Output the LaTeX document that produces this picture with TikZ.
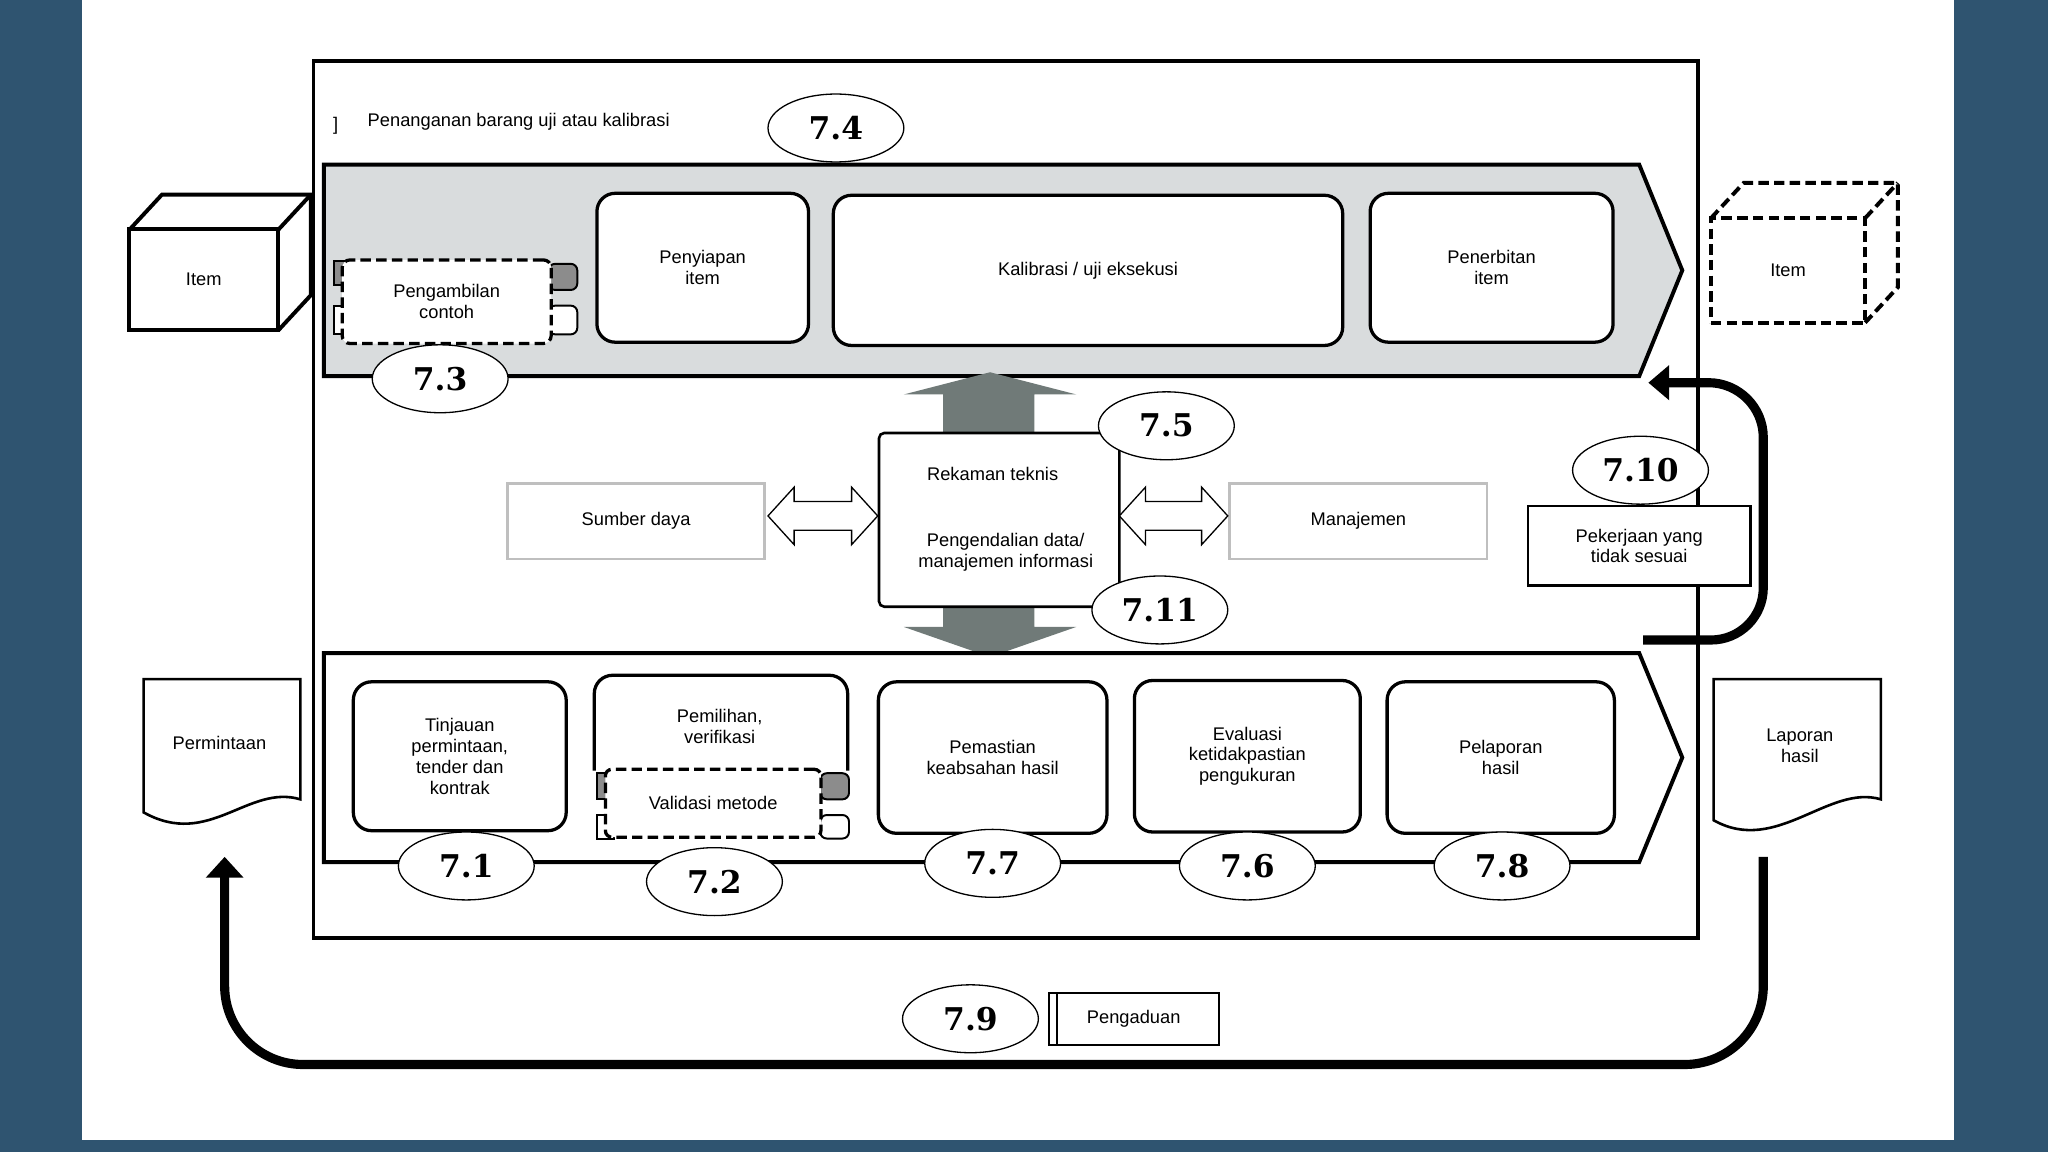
\documentclass[tikz,border=0pt]{standalone}
\usepackage{fontspec}
\setmainfont{Liberation Sans}
\newfontfamily\numfont{DejaVu Serif}
\usetikzlibrary{shapes.geometric,arrows.meta}
\definecolor{bgblue}{HTML}{2F5470}
\definecolor{band}{HTML}{D9DCDD}
\definecolor{darrow}{HTML}{707A78}
\begin{document}
\begin{tikzpicture}[x=1pt,y=-1pt,
  txt/.style={font=\fontsize{14}{16}\selectfont,align=center},
  rbox/.style={draw,line width=2.5pt,rounded corners=14pt,fill=white},
  dsh/.style={dash pattern=on 8pt off 4pt},
  num/.style={draw,ellipse,fill=white,line width=1pt,minimum width=104pt,minimum height=52pt,font=\numfont\bfseries\fontsize{24}{26}\selectfont},
  lbox/.style={draw=black!25,line width=2pt,fill=white},
  thick3/.style={line width=3pt}]
\useasboundingbox (0,0) rectangle (1568,882);
\fill[bgblue] (0,0) rectangle (1568,882);
\fill[white] (63,0) rectangle (1496,873);
\draw[thick3] (240,47) rectangle (1300,718);
\node[txt,anchor=west] (title) at (278,93) {Penanganan barang uji atau kalibrasi};
\node[txt] (br) at (257,96) {]};
% top band
\draw[thick3,fill=band] (248,126) -- (1255,126) -- (1288,207) -- (1255,288) -- (248,288) -- cycle;
\node[num] (n74) at (640,98) {7.4};
\node[rbox,minimum width=162pt,minimum height=114pt,txt] (pen) at (538,205) {Penyiapan\\item};
\node[rbox,minimum width=390pt,minimum height=115pt,txt] (kal) at (833,207) {Kalibrasi / uji eksekusi};
\node[rbox,minimum width=186pt,minimum height=114pt,txt] (ter) at (1142,205) {Penerbitan\\item};
% Pengambilan contoh
\draw[fill=black!45,line width=1.5pt] (256,200) rectangle (268,218);
\draw[fill=black!45,line width=1.5pt,rounded corners=5pt] (420,202) rectangle (442,222) ;
\draw[fill=white,line width=1.5pt,rounded corners=5pt] (420,234) rectangle (442,256);
\draw[fill=white,line width=1.5pt] (256,234) rectangle (268,256);
\node[draw,dsh,line width=2.5pt,fill=white,rounded corners=6pt,minimum width=160pt,minimum height=64pt,txt] (amb) at (342,231) {Pengambilan\\contoh};
\node[num] (n73) at (337,290) {7.3};
% cubes
\draw[thick3,fill=white] (99,176) -- (124,149) -- (238,149) -- (238,226) -- (213,253);
\draw[thick3] (213,176) -- (238,149);
\node[draw,thick3,fill=white,minimum width=114pt,minimum height=77pt,txt] (itemL) at (156,214) {Item};
\draw[thick3,dsh] (1310,167) -- (1335,140) -- (1453,140) -- (1453,220) -- (1428,247);
\draw[thick3,dsh] (1428,167) -- (1453,140);
\node[draw,thick3,dsh,minimum width=118pt,minimum height=80pt,txt] (itemR) at (1369,207) {Item};
% gray vertical arrows
\fill[darrow] (722,332) -- (722,302) -- (692,302) -- (758,285) -- (824,302) -- (792,302) -- (792,332) -- cycle;
\fill[darrow] (722,462) -- (722,480) -- (692,480) -- (758,503) -- (824,480) -- (792,480) -- (792,462) -- cycle;
% center box
\node[draw,line width=2pt,fill=white,rounded corners=4pt,minimum width=184pt,minimum height=133pt] (cen) at (765,398) {};
\node[txt] (rek) at (760,363) {Rekaman teknis};
\node[txt] (pdm) at (770,423) {Pengendalian data/\\manajemen informasi};
\node[num] (n75) at (893,326) {7.5};
\node[num] (n711) at (888,467) {7.11};
\node[lbox,minimum width=197pt,minimum height=58pt,txt] (sd) at (487,399) {Sumber daya};
\node[lbox,minimum width=197pt,minimum height=58pt,txt] (man) at (1040,399) {Manajemen};
% double arrows
\draw[line width=1pt,fill=white] (588,395) -- (608,373) -- (608,384) -- (652,384) -- (652,373) -- (672,395) -- (652,417) -- (652,406) -- (608,406) -- (608,417) -- cycle;
\draw[line width=1pt,fill=white] (857,395) -- (877,373) -- (877,384) -- (920,384) -- (920,373) -- (940,395) -- (920,417) -- (920,406) -- (877,406) -- (877,417) -- cycle;
% bottom band
\draw[thick3,fill=white] (248,500) -- (1255,500) -- (1288,580) -- (1255,660) -- (248,660) -- cycle;
\node[rbox,minimum width=163pt,minimum height=114pt,txt] (tin) at (352,579) {Tinjauan\\permintaan,\\tender dan\\kontrak};
\draw[rbox] (455,590) -- (455,517) -- (649,517) -- (649,590);
\node[txt] (pem) at (551,556) {Pemilihan,\\verifikasi};
\draw[fill=black!45,line width=1.5pt] (457,592) rectangle (470,612);
\draw[fill=black!45,line width=1.5pt,rounded corners=5pt] (628,592) rectangle (650,612);
\draw[fill=white,line width=1.5pt] (457,624) rectangle (470,642);
\draw[fill=white,line width=1.5pt,rounded corners=5pt] (628,624) rectangle (650,642);
\node[draw,dsh,line width=2.5pt,fill=white,rounded corners=5pt,minimum width=165pt,minimum height=52pt,txt] (val) at (546,615) {Validasi metode};
\node[rbox,minimum width=175pt,minimum height=116pt,txt] (pms) at (760,580) {Pemastian\\keabsahan hasil};
\node[rbox,minimum width=173pt,minimum height=116pt,txt] (eva) at (955,579) {Evaluasi\\ketidakpastian\\pengukuran};
\node[rbox,minimum width=174pt,minimum height=116pt,txt] (pel) at (1149,580) {Pelaporan\\hasil};
\node[num] (n71) at (357,663) {7.1};
\node[num] (n72) at (547,675) {7.2};
\node[num] (n77) at (760,661) {7.7};
\node[num] (n76) at (955,663) {7.6};
\node[num] (n78) at (1150,663) {7.8};
% documents
\draw[line width=2pt,fill=white] (110,520) -- (230,520) -- (230,612) .. controls (190,600) and (160,650) .. (110,622) -- cycle;
\node[txt] (perm) at (168,569) {Permintaan};
\draw[line width=2pt,fill=white] (1312,520) -- (1440,520) -- (1440,612) .. controls (1400,600) and (1360,655) .. (1312,628) -- cycle;
\node[txt] (lap) at (1378,571) {Laporan\\hasil};
% 7.10
\coordinate (r1) at (1258,490);
\coordinate (r2) at (1262,293);
\draw[line width=7pt,-{Triangle[length=16pt,width=26pt]}] (r1) -- (1310,490) arc[start angle=90,end angle=0,radius=40] -- (1350,335) arc[start angle=0,end angle=-90,radius=42] -- (r2);
\node[draw,line width=2pt,fill=white,minimum width=170pt,minimum height=61pt,txt] (pk) at (1255,418) {Pekerjaan yang\\tidak sesuai};
\node[num] (n710) at (1256,360) {7.10};
% bottom loop
\coordinate (b1) at (1350,656);
\coordinate (b2) at (172,656);
\draw[line width=7pt,-{Triangle[length=16pt,width=28pt]}] (b1) -- (1350,755) arc[start angle=0,end angle=90,radius=60] -- (232,815) arc[start angle=90,end angle=180,radius=60] -- (b2);
\node[num] (n79) at (743,780) {7.9};
\node[draw,line width=1.5pt,fill=white,minimum width=130pt,minimum height=40pt,txt] (pga) at (868,780) {Pengaduan};
\draw[line width=1.5pt] (809,760) -- (809,800);
\end{tikzpicture}
\end{document}
